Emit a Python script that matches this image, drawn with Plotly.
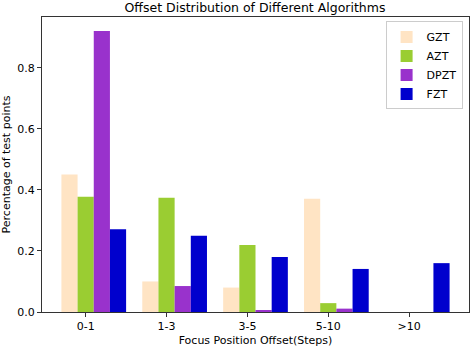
import plotly.graph_objects as go

# Offset bins on the x axis
categories = ["0-1", "1-3", "3-5", "5-10", ">10"]

# Share of test points in each offset bin, per algorithm
gzt = [0.45, 0.10, 0.08, 0.371, 0.0]
azt = [0.377, 0.374, 0.219, 0.029, 0.0]
dpzt = [0.92, 0.085, 0.004, 0.011, 0.0]
fzt = [0.271, 0.25, 0.18, 0.141, 0.16]

y_ticks = [0.0, 0.2, 0.4, 0.6, 0.8]

series = [
    ("GZT", gzt, "#FFE4C4"),
    ("AZT", azt, "#9ACD32"),
    ("DPZT", dpzt, "#9932CC"),
    ("FZT", fzt, "#0000CD"),
]

bar_w = 0.2
fig = go.Figure()
for i, (name, vals, color) in enumerate(series):
    fig.add_trace(go.Bar(
        x=categories,
        y=vals,
        name=name,
        width=bar_w,
        offset=-0.3 + i * bar_w,
        marker=dict(color=color, line=dict(width=0)),
    ))

axis_common = dict(
    showline=True, linecolor="#333333", linewidth=1, mirror=True,
    showgrid=False, zeroline=False,
    ticks="outside", ticklen=4, tickcolor="#333333",
    tickfont=dict(size=11, color="black"),
)

fig.update_layout(
    width=474, height=349,
    margin=dict(l=40, r=4, t=17, b=33),
    paper_bgcolor="white", plot_bgcolor="white",
    font=dict(family="DejaVu Sans", color="black"),
    barmode="overlay",
    title=dict(text="Offset Distribution of Different Algorithms",
               x=0.538, xanchor="center", y=0.978, yanchor="middle",
               font=dict(size=12.5)),
    xaxis=dict(
        type="category", range=[-0.54, 4.74],
        title=dict(text="Focus Position Offset(Steps)", font=dict(size=11), standoff=4),
        **axis_common,
    ),
    yaxis=dict(
        range=[0, 0.966], tickvals=y_ticks, tickformat=".1f",
        title=dict(text="Percentage of test points", font=dict(size=11), standoff=6),
        **axis_common,
    ),
    legend=dict(
        x=0.985, y=0.985, xanchor="right", yanchor="top",
        bordercolor="#cccccc", borderwidth=1, bgcolor="white",
        font=dict(size=11), itemwidth=30, tracegroupgap=0,
    ),
    showlegend=True,
)

fig.write_html("out.html")
